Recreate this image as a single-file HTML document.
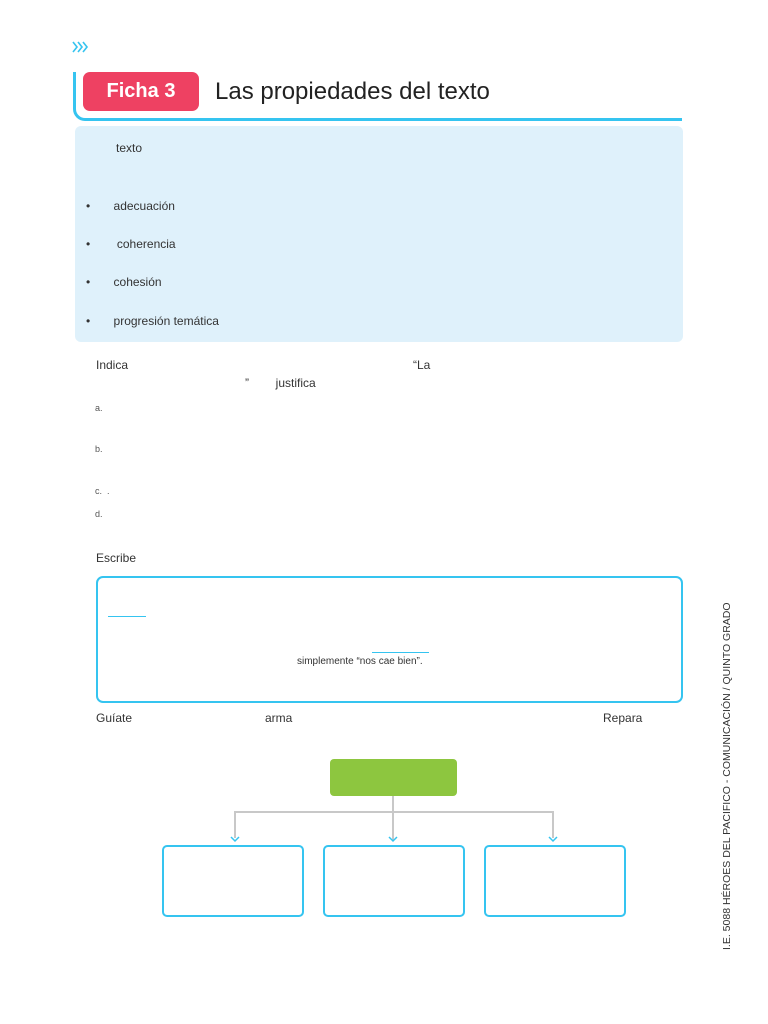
<!DOCTYPE html>
<html><head><meta charset="utf-8"><style>
body{margin:0;width:768px;height:1024px;background:#fff;position:relative;font-family:"Liberation Sans",sans-serif;overflow:hidden;color:#333}
.a{position:absolute;white-space:nowrap}
.t{font-size:12px;font-family:"Liberation Sans Narrow","Liberation Sans",sans-serif;color:#333}
.s{font-size:9px;color:#555}
.bx{position:absolute;border:2px solid #35c4f0;border-radius:5px;box-sizing:border-box}
</style></head><body>
<svg class="a" style="left:72px;top:40px" width="18" height="14"><g stroke="#35c4f0" stroke-width="1.6" fill="none"><path d="M1 2l4 5-4 5M6 2l4 5-4 5M11 2l4 5-4 5"/></g></svg>
<div class="a" style="left:73px;top:72px;width:606px;height:46px;border-left:3px solid #35c4f0;border-bottom:3px solid #35c4f0;border-bottom-left-radius:12px"></div>
<div class="a" style="left:83px;top:72px;width:116px;height:39px;background:#ee4162;border-radius:7px;color:#fff;font-weight:bold;font-size:20px;line-height:39px;text-align:center">Ficha 3</div>
<div class="a" style="left:215px;top:76px;font-size:24px;color:#222;line-height:32px">Las propiedades del texto</div>
<div class="a" style="left:75px;top:126px;width:608px;height:216px;background:#dff1fb;border-radius:6px"></div>
<div class="a t" style="left:116px;top:141px">texto</div>
<div class="a t" style="left:86px;top:199px">•&nbsp;&nbsp;&nbsp;&nbsp;&nbsp;&nbsp;&nbsp;adecuación</div>
<div class="a t" style="left:86px;top:237px">•&nbsp;&nbsp;&nbsp;&nbsp;&nbsp;&nbsp;&nbsp;&nbsp;coherencia</div>
<div class="a t" style="left:86px;top:275px">•&nbsp;&nbsp;&nbsp;&nbsp;&nbsp;&nbsp;&nbsp;cohesión</div>
<div class="a t" style="left:86px;top:314px">•&nbsp;&nbsp;&nbsp;&nbsp;&nbsp;&nbsp;&nbsp;progresión temática</div>
<div class="a t" style="left:96px;top:358px">Indica</div>
<div class="a t" style="left:413px;top:358px">“La</div>
<div class="a t" style="left:245px;top:376px">”&nbsp;&nbsp;&nbsp;&nbsp;&nbsp;&nbsp;&nbsp;&nbsp;justifica</div>
<div class="a s" style="left:95px;top:403px">a.</div>
<div class="a s" style="left:95px;top:444px">b.</div>
<div class="a s" style="left:95px;top:486px">c.&nbsp;&nbsp;.</div>
<div class="a s" style="left:95px;top:509px">d.</div>
<div class="a t" style="left:96px;top:551px">Escribe</div>
<div class="bx" style="left:96px;top:576px;width:587px;height:127px;border-radius:7px"></div>
<div class="a" style="left:108px;top:616px;width:38px;border-top:1px solid #35c4f0"></div>
<div class="a" style="left:372px;top:652px;width:57px;border-top:1px solid #35c4f0"></div>
<div class="a" style="left:297px;top:656px;font-size:10px;color:#333">simplemente “nos cae bien”.</div>
<div class="a t" style="left:96px;top:711px">Guíate</div>
<div class="a t" style="left:265px;top:711px">arma</div>
<div class="a t" style="left:603px;top:711px">Repara</div>
<div class="a" style="left:330px;top:759px;width:127px;height:37px;background:#8dc63f;border-radius:4px"></div>
<svg class="a" style="left:0;top:0" width="768" height="1024">
<g stroke="#c8c8c8" stroke-width="2" fill="none">
<path d="M393 796V840"/><path d="M235 838V812H553V838"/>
</g>
<g stroke="#35c4f0" stroke-width="1.5" fill="none">
<path d="M231 837l4 4 4-4M389 837l4 4 4-4M549 837l4 4 4-4"/>
</g>
</svg>
<div class="bx" style="left:162px;top:845px;width:142px;height:72px"></div>
<div class="bx" style="left:323px;top:845px;width:142px;height:72px"></div>
<div class="bx" style="left:484px;top:845px;width:142px;height:72px"></div>
<div class="a" style="left:721px;top:950px;transform:rotate(-90deg);transform-origin:0 0;font-size:10.5px;color:#333;width:360px">I.E. 5088 HÉROES DEL PACIFICO - COMUNICACIÓN / QUINTO GRADO</div>
</body></html>
